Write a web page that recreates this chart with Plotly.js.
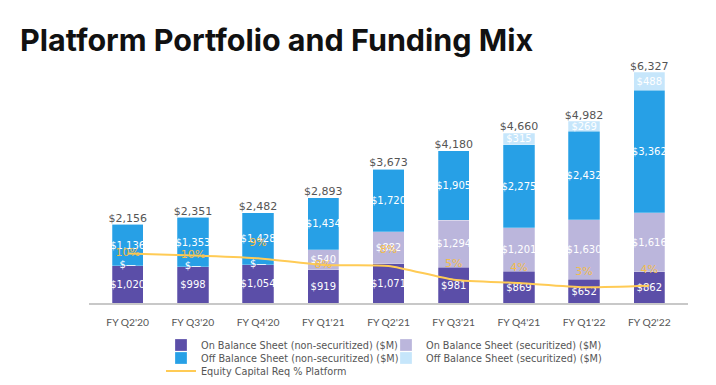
<!DOCTYPE html>
<html><head><meta charset="utf-8">
<script src="https://cdn.plot.ly/plotly-3.0.1.min.js"></script>
<style>html,body{margin:0;padding:0;background:#fff}</style>
</head><body><div id="chart" style="width:716px;height:385px"></div>
<script>
const categories = ["FY Q2'20","FY Q3'20","FY Q4'20","FY Q1'21","FY Q2'21","FY Q3'21","FY Q4'21","FY Q1'22","FY Q2'22"];
const onBalanceNonSec = [1020,998,1054,919,1071,981,869,652,862];
const onBalanceSec = [0,0,0,540,882,1294,1201,1630,1616];
const offBalanceNonSec = [1136,1353,1428,1434,1720,1905,2275,2432,3362];
const offBalanceSec = [0,0,0,0,0,0,315,269,488];
const totals = [2156,2351,2482,2893,3673,4180,4660,4982,6327];
const equityPct = [10.4,10.0,9.4,8.0,7.8,4.9,4.2,3.3,3.6];
const equityLabels = ['10%','10%','9%','8%','8%','5%','4%','3%','4%'];
const labelPos = ['middle center','middle center','top center','middle center','top center','top center','top center','top center','top center'];

const fmt = v => v ? '$' + v.toLocaleString('en-US') : '';
const insideFont = {family:'DejaVu Sans', size:10, color:'#ffffff'};

function barTrace(name, vals, color, lg){
  return {type:'bar', name:name, legend:lg, x:categories, y:vals, text:vals.map(fmt),
    textposition:'inside', insidetextanchor:'middle', constraintext:'none', textangle:0,
    textfont:insideFont, marker:{color:color, line:{color:'rgba(255,255,255,0.5)', width:0.5}},
    hoverinfo:'skip'};
}

const dashX = categories.filter((c,i)=>onBalanceSec[i]===0);
const dashY = onBalanceNonSec.filter((v,i)=>onBalanceSec[i]===0);

const data = [
  barTrace('On Balance Sheet (non-securitized) ($M)', onBalanceNonSec, '#5B4EA8', 'legend'),
  barTrace('On Balance Sheet (securitized) ($M)', onBalanceSec, '#BBB6DC', 'legend'),
  barTrace('Off Balance Sheet (non-securitized) ($M)', offBalanceNonSec, '#27A0E6', 'legend2'),
  barTrace('Off Balance Sheet (securitized) ($M)', offBalanceSec, '#C6E6FB', 'legend2'),
  {type:'scatter', mode:'lines', name:'Equity Capital Req % Platform', legend:'legend3', x:categories, y:equityPct,
   yaxis:'y2', line:{color:'#FFCB55', width:2, shape:'spline', smoothing:0.6}, hoverinfo:'skip'},
  {type:'scatter', mode:'markers+text', x:categories, y:equityPct, yaxis:'y2', text:equityLabels,
   textposition:labelPos, marker:{size:14, color:'rgba(0,0,0,0)'}, textfont:{family:'DejaVu Sans', size:11, color:'#F2BD4C'},
   showlegend:false, hoverinfo:'skip', cliponaxis:false},
  {type:'scatter', mode:'text', x:dashX, y:dashY, text:dashX.map(()=>'$\u2014'), textposition:'middle center',
   textfont:insideFont, showlegend:false, hoverinfo:'skip', cliponaxis:false},
  {type:'scatter', mode:'text', x:categories, y:totals, text:totals.map(fmt), textposition:'top center',
   textfont:{family:'DejaVu Sans', size:11, color:'#555555'}, showlegend:false, hoverinfo:'skip', cliponaxis:false}
];

function legendRow(centerY){
  return {orientation:'h', x:161/716, xref:'container', xanchor:'left', y:1-centerY/385, yref:'container', yanchor:'middle',
    traceorder:'normal', font:{family:'DejaVu Sans', size:9.7, color:'#555555'}, entrywidth:180, entrywidthmode:'pixels',
    bgcolor:'rgba(0,0,0,0)'};
}

const layout = {
  width:716, height:385,
  margin:{l:89, r:28, t:48, b:82},
  paper_bgcolor:'#ffffff', plot_bgcolor:'#ffffff',
  barmode:'stack', bargap:0.52,
  title:{text:'<b>Platform Portfolio and Funding Mix</b>', font:{family:'Inter', size:30.5, color:'#111111'},
    x:20/716, xref:'container', xanchor:'left', y:1-40/385, yref:'container', yanchor:'middle'},
  xaxis:{type:'category', showline:true, linecolor:'#c8c8c8', linewidth:2, ticks:'', showgrid:false, zeroline:false,
    tickfont:{family:'Lato', size:10.3, color:'#555555'}, ticklabelstandoff:9},
  yaxis:{range:[0,7000], visible:false, showgrid:false, zeroline:false},
  yaxis2:{range:[0,53.6], overlaying:'y', visible:false, showgrid:false, zeroline:false},
  legend:legendRow(345),
  legend2:legendRow(358),
  legend3:legendRow(371),
  showlegend:true
};

Plotly.newPlot('chart', data, layout, {displayModeBar:false, staticPlot:true});
</script>
</body></html>
